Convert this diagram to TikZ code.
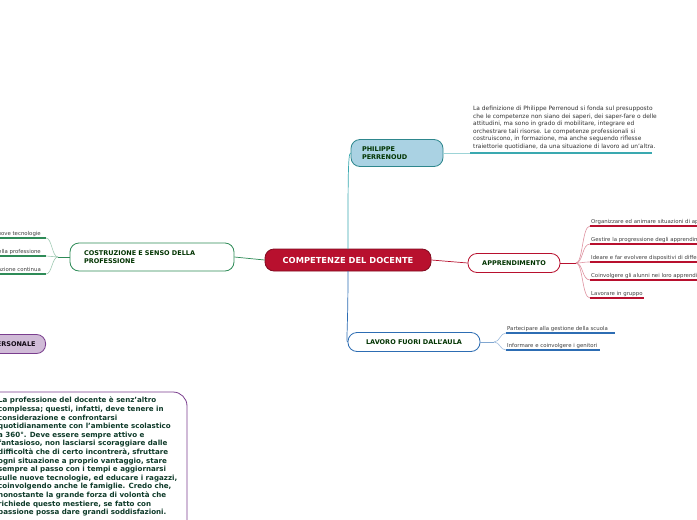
\documentclass[tikz,border=0pt]{standalone}
\usepackage{fontspec}
\setmainfont{DejaVu Sans}
\begin{document}
\begin{tikzpicture}[x=1pt,y=-1pt,
  main/.style={rounded corners=9pt,draw,line width=0.8pt,font=\fontsize{6.5}{8}\selectfont\bfseries,text=green!20!black},
  leaf/.style={font=\fontsize{5.4}{6.5}\selectfont,text=black!75,anchor=south west,inner sep=1pt},
  conn/.style={line width=0.7pt}]
\definecolor{crim}{HTML}{B8102E}
\definecolor{teal1}{HTML}{3AA9B0}
\definecolor{blu}{HTML}{2D6DB3}
\definecolor{grn}{HTML}{2E8B57}
\definecolor{pur}{HTML}{7A3E8E}
\definecolor{dk}{HTML}{0F3B2A}
\clip (0,0) rectangle (697,520);
\fill[white] (0,0) rectangle (697,520);
% central
\node[main,fill=crim,draw=crim!70!black,text=white,minimum width=166pt,minimum height=22pt,font=\fontsize{8.3}{10}\selectfont\bfseries] (c) at (348,260) {COMPETENZE DEL DOCENTE};
% Philippe
\node[main,fill=cyan!25!teal1!45,draw=teal1!80!black,minimum width=92pt,minimum height=27pt,align=left,text width=70pt] (p) at (397,153) {PHILIPPE\\PERRENOUD};
\draw[conn,teal1] (348,249) .. controls (348,180) and (348,153) .. (p.west);
\node[font=\fontsize{5.9}{7.6}\selectfont,text=black!80,align=left,anchor=south west,inner sep=0pt] (pt) at (473,150) {La definizione di Philippe Perrenoud si fonda sul presupposto\\che le competenze non siano dei saperi, dei saper-fare o delle\\attitudini, ma sono in grado di mobilitare, integrare ed\\orchestrare tali risorse. Le competenze professionali si\\costruiscono, in formazione, ma anche seguendo riflesse\\traiettorie quotidiane, da una situazione di lavoro ad un'altra.};
\coordinate (pe) at (652,153);
\draw[teal1!50,line width=0.7pt] (p.east) -- (470,153);
\draw[teal1,line width=1.2pt] (470,153) -- (pe);
% Apprendimento
\node[main,draw=crim,fill=white,minimum width=92pt,minimum height=19pt] (a) at (514,263) {APPRENDIMENTO};
\draw[conn,crim] (c.east) -- (a.west);
\coordinate (ab) at (576,263);
\draw[conn,crim] (a.east) -- (ab);
\foreach \y/\t in {226/Organizzare ed animare situazioni di apprendimento,244/Gestire la progressione degli apprendimenti,262/Ideare e far evolvere dispositivi di differenziazione,280/Coinvolgere gli alunni nei loro apprendimenti e nel loro lavoro,298/Lavorare in gruppo}{
  \draw[crim!45,line width=0.6pt] (ab) .. controls (583,263) and (582,\y) .. (590,\y);
  \node[leaf] at (590,\y) {\t};
}
\foreach \y/\e in {226/700,244/700,262/700,280/700,298/644}{\draw[crim,line width=1.1pt] (590,\y) -- (\e,\y);}
% Lavoro
\node[main,draw=blu,fill=white,minimum width=132pt,minimum height=19pt] (l) at (414,342) {LAVORO FUORI DALL'AULA};
\draw[conn,blu] (348,271) .. controls (348,330) and (346,342) .. (l.west);
\coordinate (lb) at (494,342);
\draw[conn,blu!60] (l.east) -- (lb);
\foreach \y/\t/\e in {333/Partecipare alla gestione della scuola/615,350/Informare e coinvolgere i genitori/600}{
  \draw[blu!45,line width=0.6pt] (lb) .. controls (500,342) and (500,\y) .. (506,\y);
  \node[leaf] at (506,\y) {\t};
  \draw[blu,line width=1.1pt] (506,\y) -- (\e,\y);
}
% Costruzione
\node[main,draw=grn,fill=white,minimum width=164pt,minimum height=28pt,align=left,text width=136pt] (k) at (152,257) {COSTRUZIONE E SENSO DELLA\\PROFESSIONE};
\draw[conn,grn] (c.west) -- (k.east);
\coordinate (kb) at (58,257);
\draw[conn,grn] (k.west) -- (kb);
\foreach \y/\t in {238/Utilizzare le nuove tecnologie,256/Affrontare i doveri e i dilemmi etici della professione,274/Gestire la propria formazione continua}{
  \draw[grn!45,line width=0.6pt] (kb) .. controls (52,257) and (52,\y) .. (46,\y);
  \node[leaf,anchor=south east] at (42,\y) {\t};
  \draw[grn,line width=1.1pt] (0,\y) -- (46,\y);
}
% Riflessione
\node[main,draw=pur,fill=pur!35,text=black!85!pur,anchor=east,minimum height=19pt,inner xsep=10pt] (r) at (46,344) {RIFLESSIONE PERSONALE};
% text box
\draw[pur,line width=0.8pt,rounded corners=14pt,fill=white] (-30,392) rectangle (187,540);
\node[anchor=north west,inner sep=0pt,align=left,font=\fontsize{7.1}{8.6}\selectfont\bfseries,text=dk] (t) at (-2,397) {La professione del docente è senz'altro\\complessa; questi, infatti, deve tenere in\\considerazione e confrontarsi\\quotidianamente con l'ambiente scolastico\\a 360°. Deve essere sempre attivo e\\fantasioso, non lasciarsi scoraggiare dalle\\difficoltà che di certo incontrerà, sfruttare\\ogni situazione a proprio vantaggio, stare\\sempre al passo con i tempi e aggiornarsi\\sulle nuove tecnologie, ed educare i ragazzi,\\coinvolgendo anche le famiglie. Credo che,\\nonostante la grande forza di volontà che\\richiede questo mestiere, se fatto con\\passione possa dare grandi soddisfazioni.};
\end{tikzpicture}
\end{document}
